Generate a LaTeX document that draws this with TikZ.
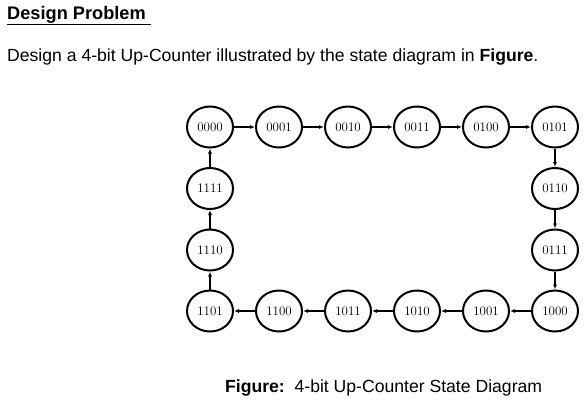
\documentclass[tikz,border=0pt]{standalone}
\usepackage{fontspec}
\setmainfont{Liberation Sans}
\newfontfamily\statefont{Latin Modern Roman}
\usetikzlibrary{arrows.meta,shapes.geometric}
\begin{document}
\begin{tikzpicture}[x=1pt,y=-1pt,
  state/.style={draw, line width=2pt, ellipse, minimum width=46pt, minimum height=41pt, inner sep=0pt, font=\statefont\fontsize{13}{15}\selectfont},
  trans/.style={line width=1.3pt, -{Latex[length=5pt,width=4pt]}},
  ]
\useasboundingbox (0,0) rectangle (584,400);
\node[anchor=base west, font=\bfseries\fontsize{18.2}{20}\selectfont, inner sep=0pt] (title) at (7,19) {\underline{Design Problem\ }};
\node[anchor=base west, font=\fontsize{17.6}{20}\selectfont, inner sep=0pt] (desc) at (7,61) {Design a 4-bit Up-Counter illustrated by the state diagram in \textbf{Figure}.};
\node[anchor=base west, font=\fontsize{17.6}{20}\selectfont, inner sep=0pt] (cap) at (225,392) {\textbf{Figure:}\ \ 4-bit Up-Counter State Diagram};
% top row
\node[state] (s0) at (210,127) {0000};
\node[state] (s1) at (279,127) {0001};
\node[state] (s2) at (348,127) {0010};
\node[state] (s3) at (417,127) {0011};
\node[state] (s4) at (486,127) {0100};
\node[state] (s5) at (555,127) {0101};
% right column
\node[state] (s6) at (555,188.5) {0110};
\node[state] (s7) at (555,250) {0111};
% bottom row
\node[state] (s8) at (555,311) {1000};
\node[state] (s9) at (486,311) {1001};
\node[state] (s10) at (417,311) {1010};
\node[state] (s11) at (348,311) {1011};
\node[state] (s12) at (279,311) {1100};
\node[state] (s13) at (210,311) {1101};
% left column
\node[state] (s14) at (210,250) {1110};
\node[state] (s15) at (210,188.5) {1111};
\foreach \a/\b in {s0/s1,s1/s2,s2/s3,s3/s4,s4/s5,s5/s6,s6/s7,s7/s8,s8/s9,s9/s10,s10/s11,s11/s12,s12/s13,s13/s14,s14/s15,s15/s0}
  \draw[trans] (\a) -- (\b);
\end{tikzpicture}
\end{document}
